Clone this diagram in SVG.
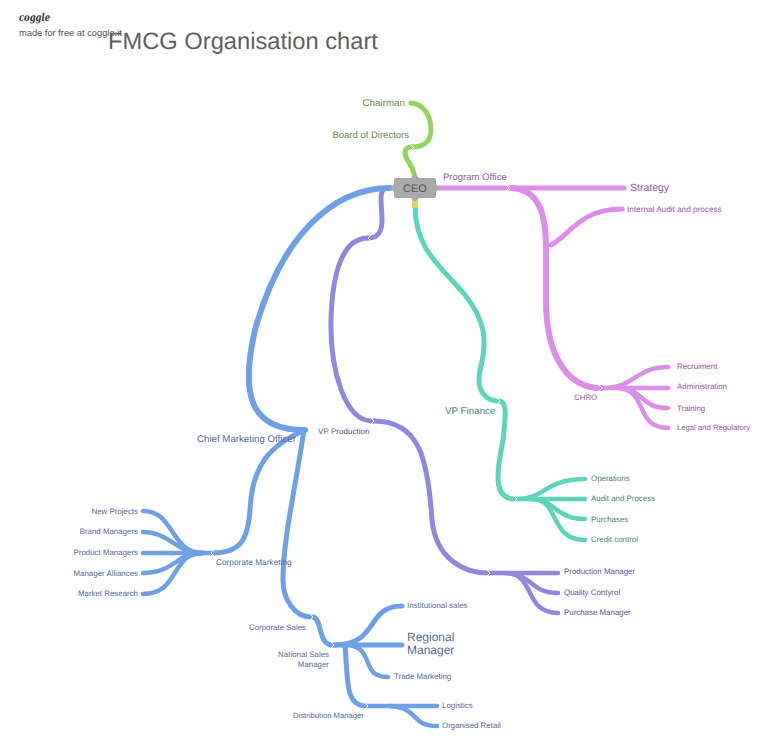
<svg xmlns="http://www.w3.org/2000/svg" width="768" height="755" viewBox="0 0 768 755">
<style>
text{font-family:"Liberation Sans",Arial,sans-serif;font-size:7.900px;text-rendering:geometricPrecision}
.c path{fill:none;stroke-linecap:round;stroke-linejoin:round}
.gr{stroke:#93d460}.pk{stroke:#dc8eea}.te{stroke:#5dd5bb}.pu{stroke:#8f88de}.bl{stroke:#6fa0e6}
.w2{stroke-width:4.500px}.w3{stroke-width:5px}.w4{stroke-width:6px}
.tgr{fill:#6a8a50}.tpk{fill:#95559f}.tte{fill:#4a8578}.tpu{fill:#5a5590}.tbl{fill:#556a96}
.e{text-anchor:end}
.chev{fill:none;stroke:#fff;stroke-width:1px}
</style>
<g id="header">
<text x="19" y="21" textLength="31" lengthAdjust="spacingAndGlyphs" style="font-family:'DejaVu Serif',serif;font-size:11px;font-style:italic;font-weight:bold" fill="#333">coggle</text>
<text x="19" y="36" style="font-size:9.300px" fill="#555">made for free at coggle.it</text>
<text x="108" y="49" style="font-size:23.700px" fill="#5f5f5f">FMCG Organisation chart</text>
</g>
<g id="connectors" class="c">
<path class="gr w3" d="M411 103C424 104 431 116 431 130C431 141 424 147 412 147"/>
<path class="gr w3" d="M412 147C403 147 404 154 408 161C412 167 414 172 415 178"/>
<path class="te w3" d="M415 205C415 250 440 265 465 295C485 320 488 340 480 370C475 395 490 401 498 401"/>
<path stroke="#e6d45c" stroke-width="6" d="M415 200V205"/>
<path class="te w3" d="M500 401C508 403 505 420 503 440C497 470 492 499 515 499"/>
<path class="te w2" d="M517 499C545 499 545 479 585 479"/>
<path class="te w2" d="M517 499H585"/>
<path class="te w2" d="M530 499C555 499 555 519 585 519"/>
<path class="te w2" d="M535 499C560 503 550 540 585 540"/>
<path class="pk w3" d="M439 188H508"/>
<path class="pk w3" d="M510 188H624"/>
<path class="pk w4" d="M512 188C540 190 546 215 546 250C546 270 546 280 546 300C546 360 570 388 601 388"/>
<path class="pk w3" d="M551 245C570 235 580 209 622 209"/>
<path class="pk w2" d="M603 388C635 388 635 367 668 367"/>
<path class="pk w2" d="M603 388H668"/>
<path class="pk w2" d="M620 388C645 390 640 408 668 408"/>
<path class="pk w2" d="M620 388C648 392 635 428 668 428"/>
<path class="pu w3" d="M386 188C378 190 382 205 382 220C382 232 378 238 368 238"/>
<path class="pu w3" d="M368 238C340 238 332 280 331 320C330 370 345 421 372 421"/>
<path class="pu w3" d="M374 421C420 421 428 460 432 520C436 560 465 573 488 573"/>
<path class="pu w2" d="M491 573H558"/>
<path class="pu w2" d="M505 573C535 575 530 593 558 593"/>
<path class="pu w2" d="M510 573C535 578 525 613 558 613"/>
<path class="bl w4" d="M390 188C330 188 280 240 255 330C240 395 250 430 305 430"/>
<path class="bl w3" d="M305 430C270 445 252 465 250 510C248 540 240 553 213 553"/>
<path class="bl w2" d="M203 553C170 553 175 511 143 511"/>
<path class="bl w2" d="M203 553C175 553 170 532 143 532"/>
<path class="bl w2" d="M211 553H143"/>
<path class="bl w2" d="M203 553C175 553 175 573 143 573"/>
<path class="bl w2" d="M203 553C170 553 180 594 143 594"/>
<path class="bl w3" d="M304 430C295 490 283 540 283 580C283 600 295 617 311 617"/>
<path class="bl w3" d="M313 617C322 618 318 645 332 645"/>
<path class="bl w3" d="M334 645C380 645 365 606 402 606"/>
<path class="bl w3" d="M334 645H402"/>
<path class="bl w2" d="M350 645C375 650 360 677 388 677"/>
<path class="bl w3" d="M345 645C348 680 345 706 366 706"/>
<path class="bl w2" d="M368 706H437"/>
<path class="bl w2" d="M390 706C420 708 410 726 437 726"/>
<path class="chev" d="M411 145l3 2.500l-3 2.500M506 185l3 3l-3 3M599 385l3 3l-3 3M497 398l3 3l-3 3M514 496l3 3l-3 3M487 570l3 3l-3 3M371 418l3 3l-3 3M214 550l-3 3l3 3M310 614l3 3l-3 3M331 642l3 3l-3 3M365 703l3 3l-3 3M371 235l-3 3l3 3"/>
</g>
<g id="ceo">
<rect x="394" y="178" width="42" height="20" rx="2" fill="#aaa"/>
<path d="M411 178l4-4l4 4zM411 198l4 4l4-4zM394 184l-4 4l4 4zM436 184l4 4l-4 4z" fill="#aaa"/>
<text x="415" y="192" text-anchor="middle" style="font-size:11px" fill="#555">CEO</text>
</g>
<g id="labels">
<text id="chairman" class="tgr e" x="405" y="106" style="font-size:9.800px">Chairman</text>
<text id="board" class="tgr e" x="409" y="138" style="font-size:9.500px">Board of Directors</text>
<text id="program" class="tpk" x="443" y="180" style="font-size:9.500px">Program Office</text>
<text id="strategy" class="tpk" x="630" y="191" style="font-size:10.500px">Strategy</text>
<text id="audit" class="tpk" x="627" y="212" style="font-size:8.200px">Internal Audit and process</text>
<text id="chro" class="tpk" x="574" y="400">CHRO</text>
<text id="recruit" class="tpk" x="677" y="369">Recruiment</text>
<text id="admin" class="tpk" x="677" y="389">Administration</text>
<text id="training" class="tpk" x="677" y="411">Training</text>
<text id="legal" class="tpk" x="677" y="430" style="font-size:7.700px">Legal and Regulatory</text>
<text id="vpfin" class="tte" x="445" y="414" style="font-size:9.800px">VP Finance</text>
<text id="ops" class="tte" x="591" y="481">Operations</text>
<text id="auditproc" class="tte" x="591" y="501">Audit and Process</text>
<text id="purch" class="tte" x="591" y="522">Purchases</text>
<text id="credit" class="tte" x="591" y="542">Credit control</text>
<text id="vpprod" class="tpu" x="318" y="434" style="font-size:8.100px">VP Production</text>
<text id="prodm" class="tpu" x="564" y="574">Production Manager</text>
<text id="qual" class="tpu" x="564" y="595">Quality Contyrol</text>
<text id="purm" class="tpu" x="564" y="615">Purchase Manager</text>
<text id="cmo" class="tbl" x="197" y="442" style="font-size:9.700px">Chief Marketing Officer</text>
<text id="corpm" class="tbl" x="216" y="565" style="font-size:8.300px">Corporate Marketing</text>
<text id="newp" class="tbl e" x="138" y="514">New Projects</text>
<text id="brand" class="tbl e" x="138" y="534">Brand Managers</text>
<text id="prodmg" class="tbl e" x="138" y="555">Product Managers</text>
<text id="alli" class="tbl e" x="138" y="576">Manager Alliances</text>
<text id="mkt" class="tbl e" x="138" y="596">Market Research</text>
<text id="corps" class="tbl" x="249" y="630">Corporate Sales</text>
<text id="nat" class="tbl e" x="329" y="657">National Sales<tspan x="329" dy="10">Manager</tspan></text>
<text id="inst" class="tbl" x="407" y="608">Institutional sales</text>
<text id="reg" class="tbl" x="407" y="641" style="font-size:12px">Regional<tspan x="407" dy="13">Manager</tspan></text>
<text id="trade" class="tbl" x="394" y="679">Trade Marketing</text>
<text id="dist" class="tbl" x="293" y="718" style="font-size:7.700px">Distribution Manager</text>
<text id="logi" class="tbl" x="442" y="708">Logistics</text>
<text id="org" class="tbl" x="442" y="728">Organised Retail</text>
</g>
</svg>
